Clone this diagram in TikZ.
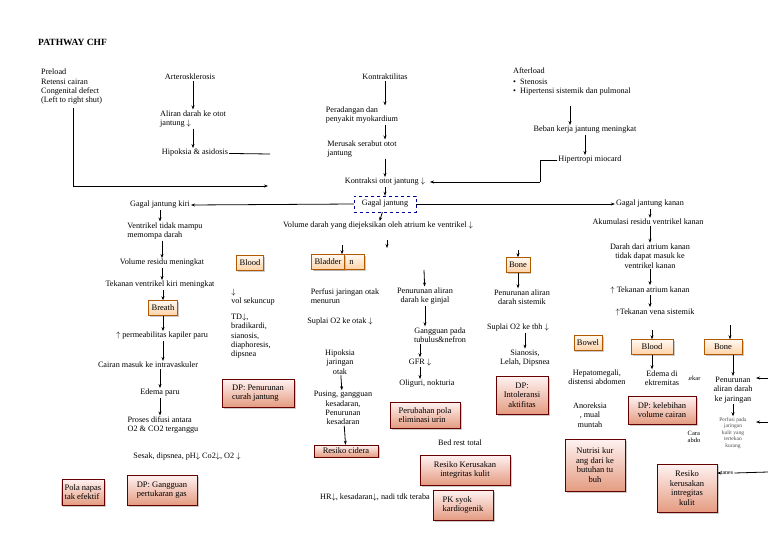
\documentclass[tikz,border=0pt]{standalone}
\usepackage{fontspec}
\setmainfont{Liberation Serif}
\usetikzlibrary{arrows.meta,shadows}
\begin{document}
\begin{tikzpicture}[x=1pt,y=-1pt,
  every node/.style={font=\fontsize{8.2}{9.2}\selectfont, align=center, inner sep=1pt},
  ob/.style={draw=orange!70!black, top color=orange!5, bottom color=orange!35, drop shadow={shadow xshift=1.5pt,shadow yshift=-1.5pt,fill=black!40}, minimum height=15pt, inner sep=3pt, font=\fontsize{8.5}{9.5}\selectfont},
  pb/.style={draw=red!40!black, top color=red!5, bottom color=red!30!brown!60, drop shadow={shadow xshift=1.5pt,shadow yshift=-1.5pt,fill=black!40}, inner sep=3pt, font=\fontsize{8.5}{9.5}\selectfont},
  ar/.style={-{Stealth[length=4pt,width=3pt]}, thick},
  ln/.style={thick}]
\useasboundingbox (0,0) rectangle (768,543);
\fill[white] (0,0) rectangle (768,543);
\node[font=\bfseries\fontsize{9.5}{10}\selectfont, anchor=west] (title) at (37,42) {PATHWAY CHF};
\node[anchor=north west, align=left] (pre) at (40,68) {Preload\\Retensi cairan\\Congenital defect\\(Left to right shut)};
\node (arter) at (190,77) {Arterosklerosis};
\node[align=left] (alir) at (193,119) {Aliran darah ke otot\\jantung $\downarrow$};
\node (hipo) at (195,153) {Hipoksia \& asidosis};
\coordinate (hipoE) at (270,154);
\node (kontr) at (385,77) {Kontraktilitas};
\node[align=left] (perad) at (362,115) {Peradangan dan\\penyakit myokardium};
\node[align=left] (meru) at (362,149) {Merusak serabut otot\\jantung};
\node (kontrak) at (385,182) {Kontraksi otot jantung $\downarrow$};
\node[draw=blue!60!black, dashed, minimum width=62pt, minimum height=16pt] (gj) at (385,204) {Gagal jantung};
\node[anchor=north west, align=left] (after) at (512,67) {Afterload\\[1pt]\textbullet\enspace Stenosis\\\textbullet\enspace Hipertensi sistemik dan pulmonal};
\node (beban) at (585,130) {Beban kerja jantung meningkat};
\node (hiper) at (590,160) {Hipertropi miocard};
\coordinate (pl) at (73,108);
\coordinate (pl2) at (73,186);
\coordinate (plE) at (268,186);
\coordinate (h1) at (540,160);
\coordinate (h2) at (540,182);
\coordinate (h3) at (430,182);
\node (gjki) at (160,205) {Gagal jantung kiri};
\node (gjka) at (650,204) {Gagal jantung kanan};
\node[align=left] (vent) at (165,231) {Ventrikel tidak mampu\\memompa darah};
\node (volr) at (162,263) {Volume residu meningkat};
\node (tek) at (160,285) {Tekanan ventrikel kiri meningkat};
\node[ob] (breath) at (163,308) {Breath};
\node (perm) at (162,336) {$\uparrow$ permeabilitas kapiler paru};
\node (cair) at (148,365) {Cairan masuk ke intravaskuler};
\node (edema) at (160,393) {Edema paru};
\node[align=left] (pros) at (163,425) {Proses difusi antara\\O2 \& CO2 terganggu};
\node (sesak) at (187,457) {Sesak, dipsnea, pH$\downarrow$ Co2$\downarrow$, O2 $\downarrow$};
\node[pb, align=left, minimum width=70pt, minimum height=30pt] (dpg) at (162,490) {DP: Gangguan\\pertukaran gas};
\node[pb, align=left, minimum height=26pt] (pola) at (83,492) {Pola napas\\tak efektif};
\node[ob] (blood1) at (250,263) {Blood};
\node[align=left] (vols) at (253,297) {$\downarrow$\\vol sekuncup};
\node[align=left, anchor=north west] (td) at (230,313) {TD$\downarrow$,\\bradikardi,\\sianosis,\\diaphoresis,\\dipsnea};
\node[pb, align=left, minimum width=72pt, minimum height=28pt] (dpc) at (258,393) {DP: Penurunan\\curah jantung};
\node (vold) at (378,226) {Volume darah yang diejeksikan oleh atrium ke ventrikel $\downarrow$};
\coordinate (vdar) at (387,240);
\coordinate (vdar2) at (387,248);
\node[ob, minimum width=52pt] (brain) at (338,262) {\phantom{Bladder}\hfill n};
\node[ob] (bladder) at (328,262) {Bladder};
\coordinate (bl1) at (342,245);
\node[align=left] (perf) at (345,296) {Perfusi jaringan otak\\menurun};
\node (supl) at (340,322) {Suplai O2 ke otak $\downarrow$};
\node (hipok) at (340,362) {Hipoksia\\jaringan\\otak};
\node (pus) at (343,408) {Pusing, gangguan\\kesadaran,\\Penurunan\\kesadaran};
\node[pb, minimum width=64pt] (cid) at (346,451) {Resiko cidera};
\coordinate (gi0) at (424,270);
\node (ginj) at (425,296) {Penurunan aliran\\darah ke ginjal};
\node (gang) at (440,335) {Gangguan pada\\tubulus\&nefron};
\node (gfr) at (420,362) {GFR $\downarrow$};
\node (olig) at (427,384) {Oliguri, nokturia};
\node[pb, align=left, minimum width=70pt, minimum height=26pt] (pola2) at (425,415) {Perubahan pola\\eliminasi urin};
\coordinate (bo0) at (518,250);
\node[ob] (bone1) at (518,265) {Bone};
\node (sist) at (522,297) {Penurunan aliran\\darah sistemik};
\node (suplt) at (518,328) {Suplai O2 ke tbh $\downarrow$};
\node (sian) at (525,358) {Sianosis,\\Lelah, Dipsnea};
\node[pb, minimum width=52pt, minimum height=38pt] (dpi) at (522,395) {DP:\\Intoleransi\\aktifitas};
\node (bed) at (460,443) {Bed rest total};
\node[pb, minimum width=90pt, minimum height=30pt] (kul) at (465,470) {Resiko Kerusakan\\integritas kulit};
\node[pb, align=left, minimum width=60pt, minimum height=30pt] (pk) at (463,505) {PK syok\\kardiogenik};
\node (hr) at (375,497) {HR$\downarrow$, kesadaran$\downarrow$, nadi tdk teraba};
\node (akum) at (648,222) {Akumulasi residu ventrikel kanan};
\node (darah) at (650,256) {Darah dari atrium kanan\\tidak dapat masuk ke\\ventrikel kanan};
\node (tat) at (650,290) {$\uparrow$ Tekanan atrium kanan};
\node (tvs) at (655,312) {$\uparrow$Tekanan vena sistemik};
\node[ob] (bowel) at (588,343) {Bowel};
\coordinate (b20) at (652,330);
\node[ob, minimum width=42pt] (blood2) at (652,347) {Blood};
\coordinate (b30) at (730,325);
\node[ob, minimum width=38pt] (bone2) at (723,347) {Bone};
\node (hep) at (597,377) {Hepatomegali,\\distensi abdomen};
\node (anor) at (590,415) {Anoreksia\\, mual\\muntah};
\node (edx) at (662,378) {Edema di\\ektremitas};
\node[pb, align=left, minimum width=68pt, minimum height=28pt] (dpk) at (662,410) {DP: kelebihan\\volume cairan};
\node (pen) at (733,390) {Penurunan\\aliran darah\\ke jaringan};
\node[font=\fontsize{5.5}{6.5}\selectfont, text=black!70] (pkul) at (733,433) {Perfusi pada\\jaringan\\kulit yang\\tertekan\\kurang};
\node[pb, minimum width=60pt, minimum height=52pt] (nut) at (595,465) {Nutrisi kur\\ang dari ke\\butuhan tu\\buh};
\node[pb, minimum width=60pt, minimum height=48pt] (rkk) at (687,488) {Resiko\\kerusakan\\intregitas\\kulit};
\node[font=\fontsize{6.5}{7}\selectfont] (tek2) at (694,378) {.ekar};
\node[font=\fontsize{6.5}{7}\selectfont, align=left] (cara) at (694,437) {Cara\\abdo};
\node[font=\fontsize{6}{7}\selectfont] (tan) at (727,473) {tanes};
\coordinate (re) at (768,472);
\coordinate (ra1) at (756,378);\coordinate (ra1b) at (768,378);
\coordinate (ra2) at (756,422);\coordinate (ra2b) at (768,422);
\coordinate (ka) at (385,86);
\coordinate (kb) at (385,132);
\coordinate (aa) at (570,106);
\coordinate (ab) at (193,87);
% connectors
\draw[ar] (arter.south -| ab) -- (alir.north -| ab);
\draw[ar] (alir.south -| ab) -- (hipo.north -| ab);
\draw[ln] (hipo) -- (hipoE);
\draw[ar] (kontr.south -| ka) -- (perad.north -| ka);
\draw[ar] (perad.south -| ka) -- (meru.north -| ka);
\draw[ar] (meru.south -| kb) -- (kontrak.north -| kb);
\draw[ar] (kontrak) -- (gj);
\draw[ar] (aa) -- (beban.north -| aa);
\draw[ar] (beban) -- (hiper.north -| beban);
\draw[ln] (hiper.west) -- (h1) -- (h2);
\draw[ar] (h2) -- (h3);
\draw[ln] (pl) -- (pl2); \draw[ar] (pl2) -- (plE);
\draw[ar] (gj.west) -- (gjki.east);
\draw[ar] (gj.east) -- (gjka.west);
\draw[ar] (gjki) -- (vent.north -| gjki);
\draw[ar] (vent.south -| volr) -- (volr);
\draw[ar] (volr) -- (tek.north -| volr);
\draw[ar] (tek.south -| breath) -- (breath);
\draw[ar] (breath) -- (perm.north -| breath);
\draw[ar] (perm.south -| breath) -- (cair.north -| breath);
\draw[ar] (cair.south -| edema) -- (edema);
\draw[ar] (edema) -- (pros.north -| edema);
\draw[ar] (gj) -- (vold);
\draw[ar] (vdar) -- (vdar2);
\draw[ar] (bl1) -- (brain.north -| bl1);
\draw[ar] (gi0) -- (ginj);
\draw[ar] (ginj) -- (gang.north -| ginj);
\draw[ar] (gang.south -| gfr) -- (gfr);
\draw[ar] (gfr) -- (olig.north -| gfr);
\draw[ar] (hipok) -- (pus);
\draw[ar] (pus) -- (cid);
\draw[ar] (bo0) -- (bone1);
\draw[ar] (bone1) -- (sist.north -| bone1);
\draw[ar] (suplt.south -| sian) -- (sian);
\draw[ar] (gjka) -- (akum.north -| gjka);
\draw[ar] (akum.south -| darah) -- (darah);
\draw[ar] (darah) -- (tat);
\draw[ar] (tat) -- (tvs.north -| tat);
\draw[ar] (b20) -- (blood2);
\draw[ar] (b30) -- (bone2.north -| b30);
\draw[ar] (blood2) -- (edx.north -| blood2);
\draw[ar] (bone2.south -| pen) -- (pen);
\draw[ar] (pen) -- (pkul);
\draw[ln] (re) -- (tan.east);
\draw[ar] (tan.west) -- (rkk.east |- tan);
\draw[ar] (ra1b) -- (ra1);
\draw[ar] (ra2b) -- (ra2);
\end{tikzpicture}
\end{document}
